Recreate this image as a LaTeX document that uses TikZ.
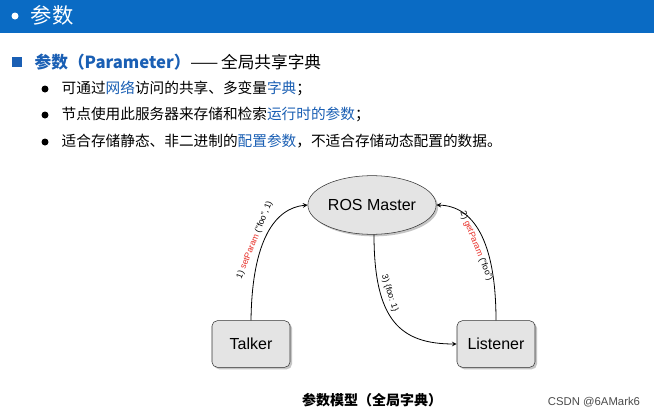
\documentclass[tikz,border=0pt]{standalone}
\usepackage{fontspec}
\setmainfont{Liberation Sans}
\newfontfamily\cjk{Noto Sans CJK SC}
\usetikzlibrary{shapes.geometric,shadows}
\definecolor{hdblue}{HTML}{0A6BC4}
\definecolor{kwblue}{HTML}{1A5FB4}
\definecolor{boxgray}{HTML}{E4E4E4}
\definecolor{lblred}{HTML}{E8322B}
\begin{document}
\begin{tikzpicture}[x=0.75pt,y=-0.75pt,
  box/.style={draw=black!80,fill=boxgray,rounded corners=4pt,minimum width=58.5pt,minimum height=35pt,font=\fontsize{12}{14}\selectfont,drop shadow={shadow xshift=1.5pt,shadow yshift=-1.5pt,fill=black!45}},
  master/.style={ellipse,draw=black!80,fill=boxgray,minimum width=82pt,minimum height=44pt,inner sep=1pt,font=\fontsize{12}{14}\selectfont,drop shadow={shadow xshift=1.5pt,shadow yshift=-1.5pt,fill=black!45}},
  conn/.style={->,>=stealth,semithick},
  lbl/.style={font=\fontsize{6.5}{7}\selectfont},
  bl/.style={font=\cjk\fontsize{11}{13}\selectfont,anchor=west}]
\useasboundingbox (0,0) rectangle (654,418);
\fill[white] (0,0) rectangle (654,418);
% header
\fill[hdblue] (0,0) rectangle (654,33);
\fill[white] (15,16) circle (3.5);
\node[anchor=west,text=white,font=\cjk\fontsize{16}{18}\selectfont] (hd) at (26,15) {参数};
% title line
\fill[kwblue] (12,57) rectangle (22,67);
\node[anchor=west,font=\cjk\fontsize{12.5}{14}\selectfont] (tl) at (30,62) {\textcolor{kwblue}{\bfseries 参数（Parameter）}——\,全局共享字典};
% bullets
\foreach \y in {89,115,142} \fill (45,\y) circle (3.5);
\node[bl] (b1) at (57,88) {可通过\textcolor{kwblue}{网络}访问的共享、多变量\textcolor{kwblue}{字典}；};
\node[bl] (b2) at (57,114) {节点使用此服务器来存储和检索\textcolor{kwblue}{运行时的参数}；};
\node[bl] (b3) at (57,141) {适合存储静态、非二进制的\textcolor{kwblue}{配置参数}，不适合存储动态配置的数据。};
% diagram
\node[master] (m) at (372,205) {ROS Master};
\node[box] (t) at (251,344) {Talker};
\node[box] (l) at (496,344) {Listener};
\draw[conn] (t.north) .. controls (252,240) and (275,208) .. (m.west)
  node[lbl,pos=0.42,sloped,above] {1) \textcolor{lblred}{setParam} ("foo", 1)};
\draw[conn] (l.north) .. controls (496,240) and (473,206) .. (m.east)
  node[lbl,pos=0.42,sloped,below] {2) \textcolor{lblred}{getParam} ("foo")};
\draw[conn] (m.south) ++(2,0) coordinate (ms) (ms) .. controls (374,320) and (400,344) .. (l.west)
  node[lbl,pos=0.3,sloped,above] {3) \{foo: 1\}};
% caption
\node[font=\cjk\bfseries\fontsize{10.5}{12}\selectfont] (cap) at (372,400) {参数模型（全局字典）};
\node[font=\fontsize{8.5}{10}\selectfont,text=black!70] (csdn) at (594,402) {CSDN @6AMark6};
\end{tikzpicture}
\end{document}
